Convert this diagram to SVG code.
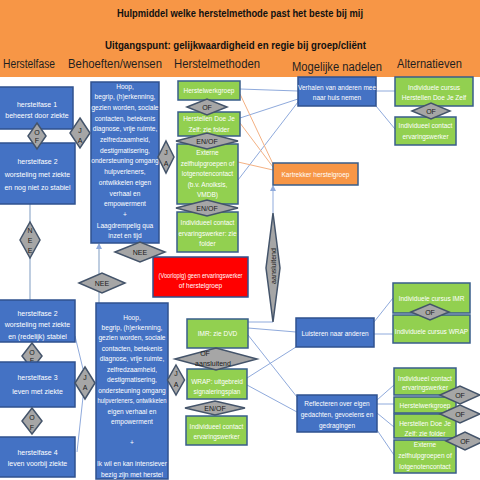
<svg xmlns="http://www.w3.org/2000/svg" width="480" height="480" viewBox="0 0 480 480">
<style>
text{font-family:"Liberation Sans",Arial,sans-serif}
.b{fill:#4472C4;stroke:#2F528F;stroke-width:1.5}
.g{fill:#92D050;stroke:#385D8A;stroke-width:1.5}
.d{fill:#A6A6A6;stroke:#44546A;stroke-width:1.5}
.t{fill:#FFFFFF;font-size:6.5px;text-anchor:middle}
.tb{fill:#FFFFFF;font-size:6.6px;text-anchor:middle}
.tf{fill:#FFFFFF;font-size:7px;text-anchor:middle}
.dt{fill:#1A1A1A;font-size:7px;text-anchor:middle}
.h{fill:#1F1F1F;font-size:12.5px}
.ti{fill:#111111;font-size:11.5px;font-weight:bold;text-anchor:middle}
.c{fill:none;stroke:#8FAADC;stroke-width:1}
.co{fill:none;stroke:#F4B183;stroke-width:1}
.cl{fill:none;stroke:#A9BCD6;stroke-width:1.5}
</style>
<defs>
<marker id="ah" markerWidth="6" markerHeight="6" refX="5" refY="3" orient="auto" markerUnits="userSpaceOnUse"><path d="M0,0 L6,3 L0,6 z" fill="#8FAADC"/></marker>
</defs>
<rect x="0" y="0" width="480" height="77" fill="#F79646"/>
<text class="ti" x="240" y="17" textLength="246" lengthAdjust="spacingAndGlyphs">Hulpmiddel welke herstelmethode past het beste bij mij</text>
<text class="ti" x="235.5" y="49" textLength="261" lengthAdjust="spacingAndGlyphs">Uitgangspunt: gelijkwaardigheid en regie bij groep/cliënt</text>
<text class="h" x="3" y="68" textLength="52" lengthAdjust="spacingAndGlyphs">Herstelfase</text>
<text class="h" x="68" y="68" textLength="94" lengthAdjust="spacingAndGlyphs">Behoeften/wensen</text>
<text class="h" x="174" y="68" textLength="86" lengthAdjust="spacingAndGlyphs">Herstelmethoden</text>
<text class="h" x="292" y="71" textLength="90" lengthAdjust="spacingAndGlyphs">Mogelijke nadelen</text>
<text class="h" x="397" y="68" textLength="65" lengthAdjust="spacingAndGlyphs">Alternatieven</text>

<g id="connectors">
<line class="cl" x1="30" y1="204" x2="30" y2="300"/>
<line class="cl" x1="99" y1="303" x2="99" y2="244" marker-end="url(#ah)"/>
<line class="c" x1="240" y1="89" x2="298" y2="91"/>
<line class="c" x1="240" y1="118" x2="298" y2="99"/>
<line class="c" x1="238" y1="180" x2="298" y2="102"/>
<line class="c" x1="376" y1="91" x2="395" y2="91"/>
<line class="c" x1="376" y1="106" x2="395" y2="129"/>
<line class="co" x1="240" y1="94" x2="273" y2="164"/>
<line class="co" x1="240" y1="123" x2="273" y2="167"/>
<line class="co" x1="238" y1="162" x2="273" y2="170"/>
<line class="c" x1="273" y1="213" x2="273" y2="186" marker-end="url(#ah)"/>
<line class="c" x1="248" y1="322" x2="273" y2="322"/>
<line class="c" x1="75" y1="336" x2="83" y2="369"/>
<line class="c" x1="77" y1="452" x2="83" y2="397"/>
<line class="c" x1="248" y1="328" x2="296" y2="332"/>
<line class="c" x1="248" y1="335" x2="297" y2="397"/>
<line class="c" x1="247" y1="378" x2="296" y2="347"/>
<line class="c" x1="247" y1="385" x2="297" y2="412"/>
<line class="c" x1="374" y1="322" x2="393" y2="298"/>
<line class="c" x1="374" y1="334" x2="393" y2="334"/>
<line class="c" x1="377" y1="400" x2="394" y2="385"/>
<line class="c" x1="377" y1="404" x2="394" y2="404"/>
<line class="c" x1="377" y1="413" x2="394" y2="427"/>
<line class="c" x1="377" y1="430" x2="394" y2="455"/>
</g>

<g id="herstelfase1">
<rect class="b" x="-1" y="87" width="74" height="42"/>
<text class="tf" x="37" y="106.5">herstelfase 1</text>
<text class="tf" x="37" y="117.5">beheerst door ziekte</text>
</g>
<g id="herstelfase2a">
<rect class="b" x="-1" y="143" width="76" height="61"/>
<text class="tf" x="37.5" y="163.5">herstelfase 2</text>
<text class="tf" x="37.5" y="176.5">worsteling met ziekte</text>
<text class="tf" x="37.5" y="189.5">en nog niet zo stabiel</text>
</g>
<g id="of1">
<polygon class="d" points="37,123 46,136 37,149 28,136"/>
<text class="dt" x="37" y="134.5">O</text>
<text class="dt" x="37" y="142.5">F</text>
</g>
<g id="ja1">
<polygon class="d" points="80,118 90,133 80,148 70,133"/>
<text class="dt" x="80" y="132.5">J</text>
<text class="dt" x="80" y="142.5">A</text>
</g>
<g id="nee-v">
<polygon class="d" points="30,222 40,240 30,258 20,240"/>
<text class="dt" x="30" y="232.5">N</text>
<text class="dt" x="30" y="242.5">E</text>
<text class="dt" x="30" y="252.5">E</text>
</g>

<g id="behoeften1">
<rect class="b" x="91" y="82" width="68" height="161"/>
<text class="tb" x="125" y="88.5">Hoop,</text>
<text class="tb" x="125" y="99.2">begrip, (h)erkenning,</text>
<text class="tb" x="125" y="109.9">gezien worden, sociale</text>
<text class="tb" x="125" y="120.6">contacten, betekenis</text>
<text class="tb" x="125" y="131.3">diagnose, vrije ruimte,</text>
<text class="tb" x="125" y="142">zelfredzaamheid,</text>
<text class="tb" x="125" y="152.7">destigmatisering,</text>
<text class="tb" x="125" y="163.4">ondersteuning omgang</text>
<text class="tb" x="125" y="174.1">hulpverleners,</text>
<text class="tb" x="125" y="184.8">ontwikkelen eigen</text>
<text class="tb" x="125" y="195.5">verhaal en</text>
<text class="tb" x="125" y="206.2">empowerment</text>
<text class="tb" x="125" y="216.9">+</text>
<text class="tb" x="125" y="227.6">Laagdrempelig qua</text>
<text class="tb" x="125" y="238.3">inzet en tijd</text>
</g>

<g id="red">
<rect x="153" y="257" width="95" height="40" fill="#FF0000" stroke="#2F528F" stroke-width="1.5"/>
<text class="t" x="200.5" y="277.5" textLength="84" lengthAdjust="spacingAndGlyphs">(Voorlopig) geen ervaringswerker</text>
<text class="t" x="200.5" y="287.5">of herstelgroep</text>
</g>
<g id="nee1">
<polygon class="d" points="115,252 140,242 165,252 140,262"/>
<text class="dt" x="140" y="254.5">NEE</text>
</g>
<g id="nee2">
<polygon class="d" points="79,283 102,273 125,283 102,293"/>
<text class="dt" x="102" y="285.5">NEE</text>
</g>

<g id="herstelwerkgroep1">
<rect class="g" x="178" y="81" width="62" height="19"/>
<text class="t" x="209" y="93">Herstelwerkgroep</text>
</g>
<g id="herstellen1">
<rect class="g" x="178" y="112" width="62" height="24"/>
<text class="t" x="209" y="120.5">Herstellen Doe Je</text>
<text class="t" x="209" y="131.5">Zelf: zie folder</text>
</g>
<g id="of2">
<polygon class="d" points="187,107 207,99 227,107 207,115"/>
<text class="dt" x="207" y="109.5">OF</text>
</g>
<g id="externe1">
<rect class="g" x="177" y="144" width="61" height="60"/>
<text class="t" x="207.5" y="154.5">Externe</text>
<text class="t" x="207.5" y="165.5">zelfhulpgroepen of</text>
<text class="t" x="207.5" y="175.5">lotgenotencontact</text>
<text class="t" x="207.5" y="186.5">(b.v. Anoiksis,</text>
<text class="t" x="207.5" y="196.5">VMDB)</text>
</g>
<g id="enof1">
<polygon class="d" points="176,141 207,133 238,141 207,149"/>
<text class="dt" x="207" y="143.5">EN/OF</text>
</g>
<g id="contact1">
<rect class="g" x="177" y="212" width="61" height="40"/>
<text class="t" x="207.5" y="224.5">Individueel contact</text>
<text class="t" x="207.5" y="235.5">ervaringswerker: zie</text>
<text class="t" x="207.5" y="245.5">folder</text>
</g>
<g id="enof2">
<polygon class="d" points="176,208 207,200 238,208 207,216"/>
<text class="dt" x="207" y="210.5">EN/OF</text>
</g>
<g id="ja2">
<polygon class="d" points="166,141 174,157 166,173 158,157"/>
<text class="dt" x="166" y="154.5">J</text>
<text class="dt" x="166" y="165.5">A</text>
</g>

<g id="verhalen">
<rect class="b" x="298" y="77" width="78" height="29"/>
<text class="t" x="337" y="89.5">Verhalen van anderen mee</text>
<text class="t" x="337" y="99.5">naar huis nemen</text>
</g>
<g id="alt-hdjz">
<rect class="g" x="395" y="77" width="78" height="29"/>
<text class="t" x="434" y="89.5">Individuele cursus</text>
<text class="t" x="434" y="99.5">Herstellen Doe Je Zelf</text>
</g>
<g id="alt-contact1">
<rect class="g" x="395" y="117" width="61" height="28"/>
<text class="t" x="425.5" y="127.5">Individueel contact</text>
<text class="t" x="425.5" y="138.5">ervaringswerker</text>
</g>
<g id="of3">
<polygon class="d" points="412,111 431,103 450,111 431,119"/>
<text class="dt" x="431" y="113.5">OF</text>
</g>
<g id="kartrekker">
<rect x="273" y="163" width="85" height="22" fill="#F79646" stroke="#385D8A" stroke-width="1.5"/>
<text class="t" x="315.5" y="176.5">Kartrekker herstelgroep</text>
</g>
<g id="aansluitend1">
<polygon class="d" points="273,213 280,268 273,322 266,268"/>
<text class="dt" transform="translate(275.5,266) rotate(-90)" x="0" y="0">aansluitend</text>
</g>

<g id="herstelfase2b">
<rect class="b" x="-1" y="300" width="76" height="42"/>
<text class="tf" x="37.5" y="315.5">herstelfase 2</text>
<text class="tf" x="37.5" y="327">worsteling met ziekte</text>
<text class="tf" x="37.5" y="339">en (redelijk) stabiel</text>
</g>
<g id="of4">
<polygon class="d" points="32,343 42,356 32,369 22,356"/>
<text class="dt" x="32" y="354.5">O</text>
<text class="dt" x="32" y="362.5">F</text>
</g>
<g id="herstelfase3">
<rect class="b" x="-1" y="362" width="76" height="45"/>
<text class="tf" x="37.5" y="380">herstelfase  3</text>
<text class="tf" x="37.5" y="394">leven met ziekte</text>
</g>
<g id="of5">
<polygon class="d" points="32,408 42,421 32,434 22,421"/>
<text class="dt" x="32" y="419.5">O</text>
<text class="dt" x="32" y="429.5">F</text>
</g>
<g id="herstelfase4">
<rect class="b" x="-1" y="437" width="76" height="40"/>
<text class="tf" x="37.5" y="455">herstelfase 4</text>
<text class="tf" x="37.5" y="466">leven voorbij ziekte</text>
</g>
<g id="ja3">
<polygon class="d" points="85,367 95,383 85,399 75,383"/>
<text class="dt" x="85" y="379.5">J</text>
<text class="dt" x="85" y="389.5">A</text>
</g>

<g id="behoeften2">
<rect class="b" x="96" y="303" width="72" height="176"/>
<text class="tb" x="132" y="319.5">Hoop,</text>
<text class="tb" x="132" y="330">begrip, (h)erkenning,</text>
<text class="tb" x="132" y="340.4">gezien worden, sociale</text>
<text class="tb" x="132" y="350.9">contacten, betekenis</text>
<text class="tb" x="132" y="361.4">diagnose, vrije ruimte,</text>
<text class="tb" x="132" y="371.8">zelfredzaamheid,</text>
<text class="tb" x="132" y="382.3">destigmatisering,</text>
<text class="tb" x="132" y="392.8">ondersteuning omgang</text>
<text class="tb" x="132" y="403.3" textLength="69" lengthAdjust="spacingAndGlyphs">hulpverleners, ontwikkelen</text>
<text class="tb" x="132" y="413.7">eigen verhaal en</text>
<text class="tb" x="132" y="424.2">empowerment</text>
<text class="tb" x="132" y="445.1">+</text>
<text class="tb" x="132" y="466">Ik wil en kan intensiever</text>
<text class="tb" x="132" y="476.5">bezig zijn met herstel</text>
</g>

<g id="imr">
<rect class="g" x="187" y="319" width="61" height="29"/>
<text class="t" x="217.5" y="335.5">IMR: zie DVD</text>
</g>
<g id="wrap">
<rect class="g" x="187" y="369" width="60" height="30"/>
<text class="t" x="217" y="383.5">WRAP: uitgebreid</text>
<text class="t" x="217" y="393.5">signaleringsplan</text>
</g>
<g id="of-aansluitend">
<polygon class="d" points="175,359 216,348 257,359 216,370"/>
<text class="dt" x="205" y="356">OF</text>
<text class="dt" x="213" y="365.5">aansluitend</text>
</g>
<g id="ja4">
<polygon class="d" points="176,365 184.5,380 176,395 167.5,380"/>
<text class="dt" x="176" y="375.5">J</text>
<text class="dt" x="176" y="386.5">A</text>
</g>
<g id="contact2">
<rect class="g" x="186" y="416" width="61" height="29"/>
<text class="t" x="216.5" y="428.5">Individueel contact</text>
<text class="t" x="216.5" y="438.5">ervaringswerker</text>
</g>
<g id="enof3">
<polygon class="d" points="185,408 215,401 245,408 215,415"/>
<text class="dt" x="215" y="410.5">EN/OF</text>
</g>

<g id="luisteren">
<rect class="b" x="296" y="318" width="78" height="29"/>
<text class="t" x="335" y="335.5">Luisteren naar anderen</text>
</g>
<g id="alt-imr">
<rect class="g" x="393" y="283" width="77" height="30"/>
<text class="t" x="431.5" y="300.5">Individuele cursus IMR</text>
</g>
<g id="alt-wrap">
<rect class="g" x="393" y="315" width="77" height="28"/>
<text class="t" x="431.5" y="333.5">Individuele cursus WRAP</text>
</g>
<g id="of6">
<polygon class="d" points="411,312 430,304 449,312 430,320"/>
<text class="dt" x="430" y="314.5">OF</text>
</g>

<g id="reflecteren">
<rect class="b" x="297" y="395" width="80" height="37"/>
<text class="t" x="337" y="405.5">Reflecteren over eigen</text>
<text class="t" x="337" y="416.5">gedachten, gevoelens en</text>
<text class="t" x="337" y="427.5">gedragingen</text>
</g>
<g id="alt-contact2">
<rect class="g" x="394" y="368" width="62" height="27"/>
<text class="t" x="425" y="380.5">Individueel contact</text>
<text class="t" x="425" y="389.5">ervaringswerker</text>
</g>
<g id="alt-herstelwerkgroep">
<rect class="g" x="394" y="397" width="62" height="16"/>
<text class="t" x="425" y="407.5">Herstelwerkgroep</text>
</g>
<g id="alt-hdjz2">
<rect class="g" x="394" y="414" width="62" height="24"/>
<text class="t" x="425" y="425.5">Herstellen Doe Je</text>
<text class="t" x="425" y="435.5">Zelf: zie folder</text>
</g>
<g id="alt-externe">
<rect class="g" x="394" y="440" width="62" height="33"/>
<text class="t" x="425" y="446.5">Externe</text>
<text class="t" x="425" y="457.5">zelfhulpgroepen of</text>
<text class="t" x="425" y="468.5">lotgenotencontact</text>
</g>
<g id="of7">
<polygon class="d" points="440,395 460,386 480,395 460,404"/>
<text class="dt" x="460" y="397.5">OF</text>
</g>
<g id="of8">
<polygon class="d" points="440,414 460,405 480,414 460,423"/>
<text class="dt" x="460" y="416.5">OF</text>
</g>
<g id="of9">
<polygon class="d" points="446,441 465,432 484,441 465,450"/>
<text class="dt" x="465" y="443.5">OF</text>
</g>
</svg>
